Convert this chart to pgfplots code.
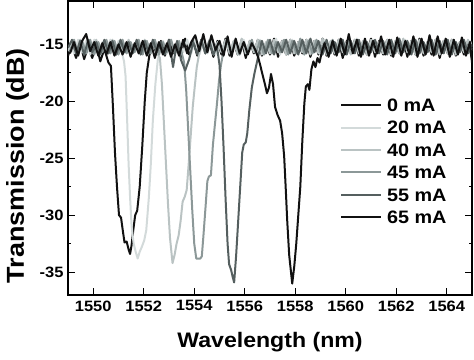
\documentclass[border=0pt]{standalone}
\usepackage{pgfplots}
\pgfplotsset{compat=1.18}
\usepackage{fontspec}
\setmainfont{Liberation Sans}[FakeStretch=1.1]
\definecolor{c0}{HTML}{111111}
\definecolor{c20}{HTML}{D3DADA}
\definecolor{c40}{HTML}{BAC3C3}
\definecolor{c45}{HTML}{8C9898}
\definecolor{c55}{HTML}{555F5F}
\definecolor{c65}{HTML}{111111}
\begin{document}
\begin{tikzpicture}
\useasboundingbox (-68pt,-64pt) rectangle (406pt,295pt);
\begin{axis}[
  at={(0,0)}, anchor=south west,
  scale only axis, width=404pt, height=294pt,
  xmin=1549, xmax=1565, ymin=-37, ymax=-11.2,
  xtick={1550,1552,...,1564}, ytick={-35,-30,-25,-20,-15},
  minor x tick num=1, minor y tick num=1,
  tick align=inside,
  major tick length=7pt, minor tick length=3.5pt,
  every tick/.style={line width=1.4pt, black},
  axis line style={line width=2pt},
  /pgf/number format/assume math mode=true,
  /pgf/number format/1000 sep={},
  tick label style={font=\fontsize{15}{17}\selectfont\bfseries},
  xticklabel style={yshift=-2pt},
  yticklabel style={xshift=-1pt},
  xlabel={Wavelength (nm)},
  ylabel={Transmission (dB)},
  xlabel style={font=\fontsize{21}{24}\selectfont\bfseries, at={(axis description cs:0.5,0)}, anchor=base, yshift=-52pt},
  ylabel style={font=\fontsize{24.5}{28}\selectfont\bfseries, at={([xshift=-44pt]axis description cs:0,0.44)}, anchor=base, rotate=0},
  legend style={draw=none, fill=none, at={(0.673,0.668)}, anchor=north west, inner sep=0pt, row sep=9.8pt,
     font=\fontsize{18}{20}\selectfont\bfseries,
     nodes={inner sep=0pt, text height=12.6pt, text depth=0pt}},
  legend cell align=left,
  legend image code/.code={\draw[#1, line width=2pt] (0pt,0pt) -- (40pt,0pt);},
  /tikz/every odd column/.append style={column sep=5pt},
  every axis plot/.append style={line width=2pt, line join=round},
]
% 0 mA
\addplot[c0] coordinates {
(1549.00,-16.0)(1549.16,-15.1)(1549.32,-16.2)(1549.48,-14.9)(1549.64,-16.3)(1549.80,-15.2)(1549.96,-16.2)(1550.12,-15.0)(1550.28,-16.5)(1550.44,-15.4)(1550.60,-16.6)
(1550.70,-16.9)(1550.78,-20.5)(1550.86,-24.5)(1550.94,-27.5)(1551.02,-30.0)(1551.10,-30.2)(1551.18,-31.5)(1551.24,-32.4)(1551.32,-32.3)(1551.40,-33.0)(1551.46,-33.4)(1551.52,-32.6)(1551.58,-31.4)(1551.66,-30.0)(1551.74,-29.6)(1551.84,-27.5)(1551.94,-24.0)(1552.04,-20.0)(1552.12,-17.5)(1552.22,-16.0)
(1552.36,-14.9)(1552.52,-15.9)(1552.68,-14.7)(1552.84,-16.0)(1553.00,-14.6)(1553.16,-15.8)(1553.32,-14.8)(1553.48,-16.1)(1553.64,-14.5)(1553.80,-15.9)(1553.96,-14.7)(1554.12,-16.0)(1554.28,-14.6)(1554.44,-15.8)(1554.60,-14.8)(1554.76,-16.1)(1554.92,-14.7)(1555.08,-15.9)(1555.24,-14.5)(1555.40,-16.0)(1555.56,-14.8)(1555.72,-15.9)(1555.88,-14.6)(1556.04,-16.2)(1556.20,-14.7)(1556.36,-15.8)(1556.52,-14.6)(1556.68,-16.0)(1556.84,-14.9)(1557.00,-15.9)(1557.16,-14.5)(1557.32,-16.1)(1557.48,-14.7)(1557.64,-15.9)(1557.80,-14.6)(1557.96,-16.0)(1558.12,-14.8)(1558.28,-15.8)(1558.44,-14.6)(1558.60,-16.1)(1558.76,-14.7)(1558.92,-15.9)(1559.08,-14.5)(1559.24,-16.0)(1559.40,-14.8)(1559.56,-15.9)(1559.72,-14.6)(1559.88,-16.2)(1560.04,-14.7)(1560.20,-15.8)(1560.36,-14.6)(1560.52,-16.0)(1560.68,-14.8)(1560.84,-15.9)(1561.00,-14.5)(1561.16,-16.1)(1561.32,-14.7)(1561.48,-15.9)(1561.64,-14.6)(1561.80,-16.0)(1561.96,-14.8)(1562.12,-15.8)(1562.28,-14.6)(1562.44,-16.1)(1562.60,-14.7)(1562.76,-15.9)(1562.92,-14.5)(1563.08,-16.0)(1563.24,-14.8)(1563.40,-15.9)(1563.56,-14.6)(1563.72,-16.2)(1563.88,-14.7)(1564.04,-15.8)(1564.20,-14.6)(1564.36,-16.0)(1564.52,-14.8)(1564.68,-15.9)(1564.84,-14.7)(1565.00,-16.3)
};
\addlegendentry{0 mA}
% 20 mA
\addplot[c20] coordinates {
(1549.08,-14.8)(1549.24,-15.8)(1549.40,-14.6)(1549.56,-15.7)(1549.72,-14.7)(1549.88,-15.9)(1550.04,-14.6)(1550.20,-15.8)(1550.36,-14.8)(1550.52,-15.7)(1550.68,-14.6)(1550.84,-15.9)(1551.00,-14.7)(1551.14,-15.8)
(1551.22,-16.5)(1551.28,-17.8)(1551.34,-21.5)(1551.40,-25.5)(1551.46,-28.5)(1551.52,-31.0)(1551.60,-32.5)(1551.68,-33.2)(1551.76,-33.8)(1551.84,-33.2)(1551.92,-32.8)(1552.02,-32.2)(1552.10,-31.3)(1552.20,-28.5)(1552.28,-25.5)(1552.36,-21.7)(1552.46,-18.5)(1552.56,-16.3)
(1552.76,-14.7)(1552.92,-15.8)(1553.08,-14.6)(1553.24,-15.9)(1553.40,-14.8)(1553.56,-15.7)(1553.72,-14.6)(1553.88,-15.8)(1554.04,-14.5)(1554.20,-15.9)(1554.36,-14.7)(1554.52,-15.8)(1554.68,-14.6)(1554.84,-15.9)(1555.00,-14.8)(1555.16,-15.7)(1555.32,-14.6)(1555.48,-15.8)(1555.64,-14.7)(1555.80,-15.9)(1555.96,-14.6)(1556.12,-15.8)(1556.28,-14.8)(1556.44,-15.7)(1556.60,-14.6)(1556.76,-15.9)(1556.92,-14.7)(1557.08,-15.8)(1557.24,-14.5)(1557.40,-15.9)(1557.56,-14.7)(1557.72,-15.8)(1557.88,-14.6)(1558.04,-15.7)(1558.20,-14.8)(1558.36,-15.9)(1558.52,-14.6)(1558.68,-15.8)(1558.84,-14.7)(1559.00,-15.9)(1559.16,-14.6)(1559.32,-15.7)(1559.48,-14.8)(1559.64,-15.8)(1559.80,-14.6)(1559.96,-15.9)(1560.12,-14.7)(1560.28,-15.8)(1560.44,-14.5)(1560.60,-15.9)(1560.76,-14.7)(1560.92,-15.7)(1561.08,-14.6)(1561.24,-15.8)(1561.40,-14.8)(1561.56,-15.9)(1561.72,-14.6)(1561.88,-15.8)(1562.04,-14.7)(1562.20,-15.7)(1562.36,-14.6)(1562.52,-15.9)(1562.68,-14.8)(1562.84,-15.8)(1563.00,-14.6)(1563.16,-15.9)(1563.32,-14.7)(1563.48,-15.8)(1563.64,-14.5)(1563.80,-15.7)(1563.96,-14.7)(1564.12,-15.9)(1564.28,-14.6)(1564.44,-15.8)(1564.60,-14.8)(1564.76,-15.9)(1564.92,-14.7)(1565.00,-15.2)
};
\addlegendentry{20 mA}
% 40 mA
\addplot[c40] coordinates {
(1549.00,-15.6)(1549.16,-14.7)(1549.32,-15.8)(1549.48,-14.6)(1549.64,-15.9)(1549.80,-14.8)(1549.96,-15.7)(1550.12,-14.6)(1550.28,-15.9)(1550.44,-14.7)(1550.60,-15.8)(1550.76,-14.6)(1550.92,-15.9)(1551.08,-14.8)(1551.24,-15.7)(1551.40,-14.6)(1551.56,-15.8)(1551.72,-14.7)(1551.88,-15.9)(1552.04,-14.6)(1552.20,-15.8)(1552.36,-14.8)(1552.52,-15.7)
(1552.64,-16.2)(1552.72,-18.5)(1552.80,-22.0)(1552.88,-25.5)(1552.96,-29.0)(1553.04,-32.0)(1553.14,-34.2)(1553.22,-33.5)(1553.30,-32.5)(1553.38,-31.8)(1553.46,-30.5)(1553.54,-28.8)(1553.62,-28.4)(1553.70,-27.8)(1553.78,-25.5)(1553.86,-23.0)(1553.94,-20.5)(1554.02,-18.7)(1554.10,-17.0)(1554.18,-16.0)
(1554.28,-14.7)(1554.44,-15.8)(1554.60,-14.6)(1554.76,-15.9)(1554.92,-14.8)(1555.08,-15.7)(1555.24,-14.6)(1555.40,-15.8)(1555.56,-14.7)(1555.72,-15.9)(1555.88,-14.5)(1556.04,-15.8)(1556.20,-14.7)(1556.36,-15.7)(1556.52,-14.6)(1556.68,-15.9)(1556.84,-14.8)(1557.00,-15.8)(1557.16,-14.6)(1557.32,-15.7)(1557.48,-14.7)(1557.64,-15.9)(1557.80,-14.6)(1557.96,-15.8)(1558.12,-14.8)(1558.28,-15.7)(1558.44,-14.6)(1558.60,-15.9)(1558.76,-14.7)(1558.92,-15.8)(1559.08,-14.5)(1559.24,-15.9)(1559.40,-14.7)(1559.56,-15.8)(1559.72,-14.6)(1559.88,-15.7)(1560.04,-14.8)(1560.20,-15.9)(1560.36,-14.6)(1560.52,-15.8)(1560.68,-14.7)(1560.84,-15.9)(1561.00,-14.6)(1561.16,-15.7)(1561.32,-14.8)(1561.48,-15.8)(1561.64,-14.6)(1561.80,-15.9)(1561.96,-14.7)(1562.12,-15.8)(1562.28,-14.5)(1562.44,-15.7)(1562.60,-14.7)(1562.76,-15.9)(1562.92,-14.6)(1563.08,-15.8)(1563.24,-14.8)(1563.40,-15.7)(1563.56,-14.6)(1563.72,-15.9)(1563.88,-14.7)(1564.04,-15.8)(1564.20,-14.6)(1564.36,-15.9)(1564.52,-14.8)(1564.68,-15.7)(1564.84,-14.6)(1565.00,-15.6)
};
\addlegendentry{40 mA}
% 45 mA
\addplot[c45] coordinates {
(1549.08,-15.7)(1549.24,-14.6)(1549.40,-15.9)(1549.56,-14.7)(1549.72,-15.8)(1549.88,-14.6)(1550.04,-15.9)(1550.20,-14.8)(1550.36,-15.7)(1550.52,-14.6)(1550.68,-15.8)(1550.84,-14.7)(1551.00,-15.9)(1551.16,-14.6)(1551.32,-15.8)(1551.48,-14.8)(1551.64,-15.7)(1551.80,-14.6)(1551.96,-15.9)(1552.12,-14.7)(1552.28,-15.8)(1552.44,-14.6)(1552.60,-15.9)(1552.76,-14.8)(1552.92,-15.7)(1553.08,-14.6)(1553.24,-15.8)(1553.40,-14.7)(1553.52,-15.9)
(1553.60,-16.6)(1553.68,-19.0)(1553.76,-22.5)(1553.84,-26.0)(1553.92,-29.5)(1554.00,-32.5)(1554.08,-33.8)(1554.16,-33.8)(1554.24,-33.8)(1554.30,-33.6)(1554.36,-31.9)(1554.44,-29.5)(1554.52,-27.0)(1554.58,-26.6)(1554.66,-26.5)(1554.74,-23.8)(1554.82,-22.0)(1554.90,-20.2)(1554.98,-18.2)(1555.06,-16.8)(1555.14,-15.8)
(1555.32,-14.7)(1555.48,-15.8)(1555.64,-14.6)(1555.80,-15.9)(1555.96,-14.8)(1556.12,-15.7)(1556.28,-14.6)(1556.44,-15.8)(1556.60,-14.7)(1556.76,-15.9)(1556.92,-14.6)(1557.08,-15.8)(1557.24,-14.8)(1557.40,-15.7)(1557.56,-14.6)(1557.72,-15.9)(1557.88,-14.7)(1558.04,-15.8)(1558.20,-14.5)(1558.36,-15.9)(1558.52,-14.7)(1558.68,-15.8)(1558.84,-14.6)(1559.00,-15.7)(1559.16,-14.8)(1559.32,-15.9)(1559.48,-14.6)(1559.64,-15.8)(1559.80,-14.7)(1559.96,-15.9)(1560.12,-14.6)(1560.28,-15.7)(1560.44,-14.8)(1560.60,-15.8)(1560.76,-14.6)(1560.92,-15.9)(1561.08,-14.7)(1561.24,-15.8)(1561.40,-14.5)(1561.56,-15.7)(1561.72,-14.7)(1561.88,-15.9)(1562.04,-14.6)(1562.20,-15.8)(1562.36,-14.8)(1562.52,-15.7)(1562.68,-14.6)(1562.84,-15.9)(1563.00,-14.7)(1563.16,-15.8)(1563.32,-14.6)(1563.48,-15.9)(1563.64,-14.8)(1563.80,-15.7)(1563.96,-14.6)(1564.12,-15.8)(1564.28,-14.7)(1564.44,-15.9)(1564.60,-14.6)(1564.76,-15.8)(1564.92,-14.8)(1565.00,-15.4)
};
\addlegendentry{45 mA}
% 55 mA
\addplot[c55] coordinates {
(1549.00,-15.3)(1549.16,-14.6)(1549.32,-15.8)(1549.48,-14.7)(1549.64,-15.9)(1549.80,-14.6)(1549.96,-15.7)(1550.12,-14.8)(1550.28,-15.9)(1550.44,-14.6)(1550.60,-15.8)(1550.76,-14.7)(1550.92,-15.9)(1551.08,-14.6)(1551.24,-15.7)(1551.40,-14.8)(1551.56,-15.8)(1551.72,-14.6)(1551.88,-15.9)(1552.04,-14.7)(1552.20,-15.8)(1552.36,-14.6)(1552.52,-15.7)(1552.68,-14.8)(1552.84,-15.9)(1553.00,-14.6)(1553.16,-17.0)(1553.32,-14.7)(1553.48,-16.4)(1553.64,-17.3)(1553.80,-16.3)(1553.96,-14.8)(1554.12,-15.9)(1554.28,-14.6)(1554.44,-15.8)(1554.60,-14.7)(1554.76,-15.9)(1554.90,-15.2)
(1555.00,-16.8)(1555.08,-20.0)(1555.16,-24.0)(1555.24,-28.5)(1555.32,-32.5)(1555.38,-34.3)(1555.46,-34.8)(1555.52,-35.4)(1555.58,-35.9)(1555.66,-33.5)(1555.74,-30.5)(1555.82,-27.5)(1555.90,-24.5)(1555.96,-23.8)(1556.04,-23.6)(1556.10,-22.8)(1556.18,-20.8)(1556.28,-18.8)(1556.38,-17.6)(1556.48,-16.6)(1556.58,-15.6)
(1556.68,-14.7)(1556.84,-15.8)(1557.00,-14.6)(1557.16,-15.9)(1557.32,-14.8)(1557.48,-15.7)(1557.64,-14.6)(1557.80,-15.8)(1557.96,-14.7)(1558.12,-15.9)(1558.28,-14.6)(1558.44,-15.8)(1558.60,-14.5)(1558.76,-15.7)(1558.92,-14.7)(1559.08,-15.9)(1559.24,-14.6)(1559.40,-15.8)(1559.56,-14.8)(1559.72,-15.7)(1559.88,-14.6)(1560.04,-15.9)(1560.20,-14.7)(1560.36,-15.8)(1560.52,-14.6)(1560.68,-15.9)(1560.84,-14.8)(1561.00,-15.7)(1561.16,-14.6)(1561.32,-15.8)(1561.48,-14.7)(1561.64,-15.9)(1561.80,-14.6)(1561.96,-15.8)(1562.12,-14.5)(1562.28,-15.7)(1562.44,-14.7)(1562.60,-15.9)(1562.76,-14.6)(1562.92,-15.8)(1563.08,-14.8)(1563.24,-15.7)(1563.40,-14.6)(1563.56,-15.9)(1563.72,-14.7)(1563.88,-15.8)(1564.04,-14.6)(1564.20,-15.9)(1564.36,-14.8)(1564.52,-15.7)(1564.68,-14.6)(1564.84,-15.8)(1565.00,-15.0)
};
\addlegendentry{55 mA}
% 65 mA
\addplot[c65] coordinates {
(1549.08,-15.8)(1549.24,-14.8)(1549.40,-16.0)(1549.56,-14.7)(1549.72,-14.1)(1549.88,-15.6)(1550.04,-14.8)(1550.20,-16.0)(1550.36,-14.9)(1550.52,-15.9)(1550.68,-14.8)(1550.84,-16.0)(1551.00,-15.0)(1551.16,-15.9)(1551.32,-14.8)(1551.48,-16.1)(1551.64,-14.9)(1551.80,-15.8)(1551.96,-14.7)(1552.12,-16.0)(1552.28,-14.9)(1552.44,-16.2)(1552.60,-14.8)(1552.76,-15.9)(1552.92,-14.9)(1553.08,-16.1)(1553.24,-15.0)(1553.40,-16.0)(1553.56,-14.6)(1553.72,-15.8)(1553.88,-14.8)(1554.04,-14.2)(1554.20,-15.6)(1554.36,-14.1)(1554.52,-15.7)(1554.68,-14.2)(1554.84,-15.5)(1555.00,-14.7)(1555.16,-16.0)(1555.32,-14.3)(1555.48,-16.1)(1555.64,-14.5)(1555.80,-15.8)(1555.96,-14.8)(1556.12,-15.9)(1556.28,-14.9)(1556.44,-15.6)
(1556.54,-16.2)(1556.62,-16.9)(1556.72,-17.8)(1556.80,-18.5)(1556.88,-19.3)(1556.96,-18.8)(1557.04,-17.6)(1557.12,-18.5)(1557.20,-20.5)(1557.30,-21.2)(1557.40,-21.7)(1557.48,-22.8)(1557.56,-24.8)(1557.62,-27.5)(1557.68,-30.4)(1557.76,-33.5)(1557.88,-36.0)(1557.96,-34.5)(1558.04,-32.5)(1558.12,-30.0)(1558.20,-27.5)(1558.28,-23.5)(1558.36,-20.2)(1558.42,-18.7)(1558.50,-18.5)(1558.56,-19.0)(1558.64,-17.2)(1558.72,-16.5)(1558.80,-17.0)(1558.88,-16.2)(1558.96,-16.6)(1559.04,-15.8)
(1559.16,-14.9)(1559.32,-16.1)(1559.48,-14.7)(1559.64,-16.0)(1559.80,-14.5)(1559.96,-15.9)(1560.12,-14.1)(1560.28,-15.8)(1560.44,-14.6)(1560.60,-16.1)(1560.76,-14.5)(1560.92,-16.0)(1561.08,-14.7)(1561.24,-15.8)(1561.40,-14.3)(1561.56,-15.9)(1561.72,-14.6)(1561.88,-16.1)(1562.04,-14.4)(1562.20,-16.0)(1562.36,-14.7)(1562.52,-15.9)(1562.68,-14.3)(1562.84,-16.1)(1563.00,-14.5)(1563.16,-15.9)(1563.32,-14.2)(1563.48,-16.0)(1563.64,-14.3)(1563.80,-15.8)(1563.96,-14.5)(1564.12,-16.1)(1564.28,-14.6)(1564.44,-15.9)(1564.60,-14.4)(1564.76,-16.0)(1564.92,-14.8)(1565.00,-16.6)
};
\addlegendentry{65 mA}
\end{axis}
\end{tikzpicture}
\end{document}
